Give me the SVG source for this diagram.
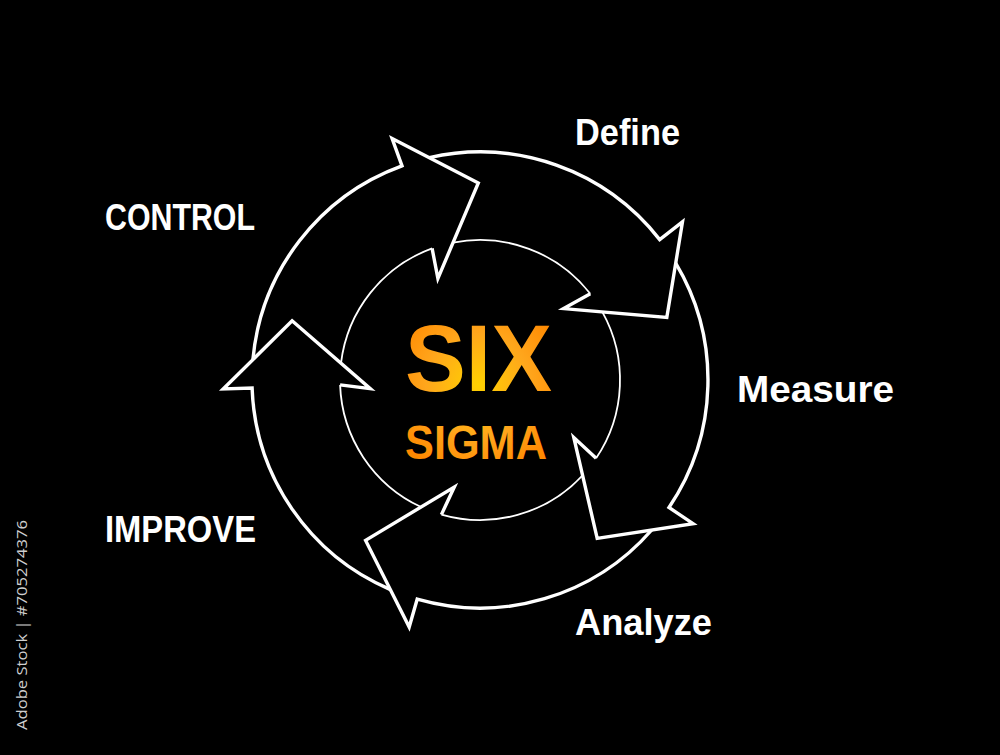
<svg xmlns="http://www.w3.org/2000/svg" width="1000" height="755" viewBox="0 0 1000 755">
  <defs>
    <radialGradient id="orange" gradientUnits="userSpaceOnUse" cx="478" cy="385" r="95">
      <stop offset="0" stop-color="#FFD200"/>
      <stop offset="0.55" stop-color="#FFA61C"/>
      <stop offset="1" stop-color="#FF8800"/>
    </radialGradient>
  </defs>
  <style>
    .bg { fill: #000000; }
    .body { fill: #000000; stroke: none; }
    .edge { fill: none; stroke: #ffffff; stroke-width: 3.4; stroke-linejoin: miter; stroke-miterlimit: 12; }
    .inner { fill: none; stroke: #ffffff; stroke-width: 1.8; }
    .label { font-family: "Liberation Sans", Arial, sans-serif; font-weight: bold; fill: #ffffff; font-size: 36px; }
    .center { font-family: "Liberation Sans", Arial, sans-serif; font-weight: bold; fill: url(#orange); }
    .tag { font-family: "Open Sans", "Liberation Sans", sans-serif; fill: #cfcfcf; font-size: 15px; }
  </style>
  <rect class="bg" x="0" y="0" width="1000" height="755"/>

  <g id="connectors">
    <g id="arrow-bodies">
      <path class="body" d="M429.3,157.7 A228,228 0 0,1 659.7,239.6 L682.5,221.8 L666.8,317.5 L563.6,308.6 L590.3,293.8 A140,140 0 0,0 453.0,242.6 L478.3,183.0 Z"/>
      <path class="body" d="M675.7,263.1 A228,228 0 0,1 669.0,507.5 L693.1,523.7 L597.2,538.4 L573.8,437.5 L596.1,458.3 A140,140 0 0,0 602.3,311.9 L666.8,317.5 Z"/>
      <path class="body" d="M651.7,530.0 A228,228 0 0,1 417.2,599.2 L409.2,627.0 L365.6,540.4 L454.3,487.0 L441.4,514.6 A140,140 0 0,0 582.6,475.3 L597.2,538.4 Z"/>
      <path class="body" d="M390.4,589.6 A228,228 0 0,1 252.1,388.0 L223.2,389.0 L292.1,320.8 L370.3,388.6 L340.1,384.9 A140,140 0 0,0 421.1,507.0 L365.6,540.4 Z"/>
      <path class="body" d="M252.9,359.5 A228,228 0 0,1 402.0,165.8 L392.1,138.5 L478.3,183.0 L437.9,278.4 L432.1,248.4 A140,140 0 0,0 341.0,363.2 L292.1,320.8 Z"/>
    </g>
    <g id="arrow-define">
      <path class="edge" d="M429.3,157.7 A228,228 0 0,1 659.7,239.6 L682.5,221.8 L666.8,317.5 L563.6,308.6 L590.3,293.8"/>
      <path class="inner" d="M590.3,293.8 A140,140 0 0,0 453.0,242.6"/>
    </g>
    <g id="arrow-measure">
      <path class="edge" d="M675.7,263.1 A228,228 0 0,1 669.0,507.5 L693.1,523.7 L597.2,538.4 L573.8,437.5 L596.1,458.3"/>
      <path class="inner" d="M596.1,458.3 A140,140 0 0,0 602.3,311.9"/>
    </g>
    <g id="arrow-analyze">
      <path class="edge" d="M651.7,530.0 A228,228 0 0,1 417.2,599.2 L409.2,627.0 L365.6,540.4 L454.3,487.0 L441.4,514.6"/>
      <path class="inner" d="M441.4,514.6 A140,140 0 0,0 582.6,475.3"/>
    </g>
    <g id="arrow-improve">
      <path class="edge" d="M390.4,589.6 A228,228 0 0,1 252.1,388.0 L223.2,389.0 L292.1,320.8 L370.3,388.6 L340.1,384.9"/>
      <path class="inner" d="M340.1,384.9 A140,140 0 0,0 421.1,507.0"/>
    </g>
    <g id="arrow-control">
      <path class="edge" d="M252.9,359.5 A228,228 0 0,1 402.0,165.8 L392.1,138.5 L478.3,183.0 L437.9,278.4 L432.1,248.4"/>
      <path class="inner" d="M432.1,248.4 A140,140 0 0,0 341.0,363.2"/>
    </g>
  </g>

  <g id="node-center">
    <text class="center" x="405" y="391" font-size="94" textLength="147" lengthAdjust="spacingAndGlyphs">SIX</text>
    <text class="center" x="405" y="459" font-size="48" textLength="142" lengthAdjust="spacingAndGlyphs">SIGMA</text>
  </g>
  <g id="node-define">
    <text class="label" x="575" y="145" textLength="105" lengthAdjust="spacingAndGlyphs">Define</text>
  </g>
  <g id="node-measure">
    <text class="label" x="737" y="402" textLength="157" lengthAdjust="spacingAndGlyphs">Measure</text>
  </g>
  <g id="node-analyze">
    <text class="label" x="575" y="635" textLength="137" lengthAdjust="spacingAndGlyphs">Analyze</text>
  </g>
  <g id="node-improve">
    <text class="label" x="105" y="542" font-size="35" textLength="151" lengthAdjust="spacingAndGlyphs">IMPROVE</text>
  </g>
  <g id="node-control">
    <text class="label" x="105" y="230" font-size="35" textLength="150" lengthAdjust="spacingAndGlyphs">CONTROL</text>
  </g>

  <text class="tag" transform="translate(27,730) rotate(-90)" textLength="210" lengthAdjust="spacingAndGlyphs">Adobe Stock | #705274376</text>
</svg>
